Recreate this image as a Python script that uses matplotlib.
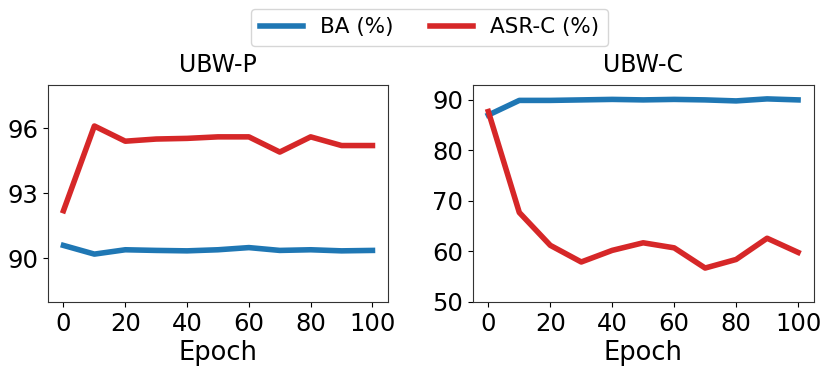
import matplotlib
matplotlib.use("Agg")
import matplotlib.pyplot as plt

epochs = [0, 10, 20, 30, 40, 50, 60, 70, 80, 90, 100]
p_ba = [90.6, 90.2, 90.4, 90.37, 90.35, 90.4, 90.5, 90.37, 90.4, 90.35, 90.37]
p_asr = [92.2, 96.1, 95.4, 95.5, 95.53, 95.6, 95.6, 94.9, 95.6, 95.2, 95.2]
c_ba = [87.0, 89.9, 89.9, 90.0, 90.1, 90.0, 90.1, 90.0, 89.8, 90.2, 90.0]
c_asr = [87.7, 67.7, 61.2, 57.9, 60.2, 61.7, 60.7, 56.7, 58.4, 62.6, 59.8]

fig = plt.figure(figsize=(8.31, 3.75), dpi=100)
ax1 = fig.add_axes([0.0578, 0.195, 0.409, 0.579])
ax2 = fig.add_axes([0.569, 0.195, 0.410, 0.579])

blue = "#1f77b4"
red = "#d62728"
lw = 4

l1, = ax1.plot(epochs, p_ba, color=blue, lw=lw, label="BA (%)")
l2, = ax1.plot(epochs, p_asr, color=red, lw=lw, label="ASR-C (%)")
ax1.set_ylim(88, 98)
ax1.set_yticks([90, 93, 96])
ax1.set_title("UBW-P", fontsize=17, pad=9)

ax2.plot(epochs, c_ba, color=blue, lw=lw)
ax2.plot(epochs, c_asr, color=red, lw=lw)
ax2.set_ylim(50, 93)
ax2.set_yticks([50, 60, 70, 80, 90])
ax2.set_title("UBW-C", fontsize=17, pad=9)

for ax in (ax1, ax2):
    ax.set_xticks([0, 20, 40, 60, 80, 100])
    ax.set_xlabel("Epoch", fontsize=18.5, labelpad=3)
    ax.tick_params(labelsize=17.5)
    for s in ax.spines.values():
        s.set_color("#333333")

fig.legend(handles=[l1, l2], loc="upper center", bbox_to_anchor=(0.517, 1.0),
           ncol=2, fontsize=15.5, frameon=True, columnspacing=1.7, handlelength=2,
           borderaxespad=0.4)

fig.savefig("out.png", dpi=100)
